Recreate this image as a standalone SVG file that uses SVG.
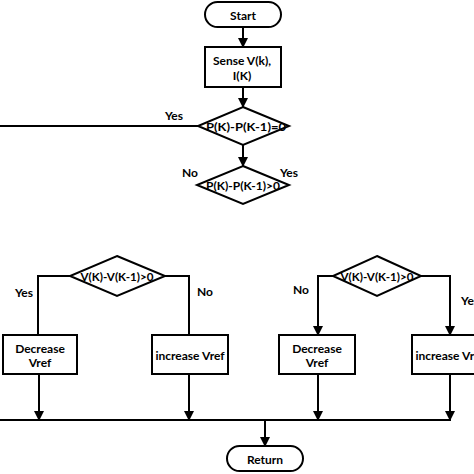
<svg xmlns="http://www.w3.org/2000/svg" width="474" height="474" viewBox="0 0 474 474">
<defs>
<marker id="arr" markerUnits="userSpaceOnUse" markerWidth="10" markerHeight="12" refX="9" refY="5" orient="auto">
<path d="M0,0 L10,5 L0,10 Z" fill="#000"/>
</marker>
<style>
.s{fill:#fff;stroke:#000;stroke-width:2}
.c{fill:none;stroke:#000;stroke-width:2}
.a{marker-end:url(#arr)}
text{font-family:Lato,"Open Sans","Liberation Sans",sans-serif;font-weight:700;font-size:12px;fill:#000;text-anchor:middle;dominant-baseline:central}
</style>
</defs>
<rect width="474" height="474" fill="#fff"/>
<g id="connectors">
<line class="c a" x1="243" y1="27" x2="243" y2="47"/>
<line class="c a" x1="243" y1="87" x2="243" y2="107"/>
<line class="c" x1="198" y1="126" x2="0" y2="126"/>
<line class="c a" x1="243" y1="145" x2="243" y2="166"/>
<polyline class="c" points="70,276 38,276 38,335"/>
<polyline class="c" points="165,276 189,276 189,335"/>
<polyline class="c a" points="333,276 318,276 318,335"/>
<polyline class="c a" points="421,276 450,276 450,335"/>
<line class="c a" x1="39" y1="374" x2="39" y2="420"/>
<line class="c a" x1="189" y1="374" x2="189" y2="420"/>
<line class="c a" x1="318" y1="374" x2="318" y2="420"/>
<line class="c a" x1="450" y1="374" x2="450" y2="420"/>
<line class="c" x1="0" y1="420" x2="451" y2="420"/>
<line class="c a" x1="265" y1="420" x2="265" y2="446"/>
</g>
<g id="labels">
<text x="174" y="115">Yes</text>
<text x="190" y="172">No</text>
<text x="289" y="172">Yes</text>
<text x="24" y="292">Yes</text>
<text x="205" y="291">No</text>
<text x="301" y="289">No</text>
<text x="461" y="300" style="text-anchor:start">Yes</text>
</g>
<g id="start"><rect class="s" x="205" y="2" width="76" height="25" rx="12.5"/><text x="243" y="15">Start</text></g>
<g id="sense"><rect class="s" x="205" y="47" width="76" height="40"/><text x="242" y="60">Sense V(k),</text><text x="242" y="75">I(K)</text></g>
<g id="dec1"><polygon class="s" points="243,107 289,126 243,145 198,126"/><text x="246" y="126" textLength="80" lengthAdjust="spacingAndGlyphs">P(K)-P(K-1)=0</text></g>
<g id="dec2"><polygon class="s" points="243,166 289,185 243,204 197,185"/><text x="243" y="185" textLength="74" lengthAdjust="spacingAndGlyphs">P(K)-P(K-1)&gt;0</text></g>
<g id="dec3"><polygon class="s" points="117,256 165,276 117,296 70,276"/><text x="117" y="276" textLength="73" lengthAdjust="spacingAndGlyphs">V(K)-V(K-1)&gt;0</text></g>
<g id="dec4"><polygon class="s" points="377,256 421,276 377,296 333,276"/><text x="377" y="276" textLength="73" lengthAdjust="spacingAndGlyphs">V(K)-V(K-1)&gt;0</text></g>
<g id="box1"><rect class="s" x="3" y="335" width="74" height="39"/><text x="40" y="348">Decrease</text><text x="40" y="362">Vref</text></g>
<g id="box2"><rect class="s" x="152" y="335" width="76" height="39"/><text x="190" y="355">increase Vref</text></g>
<g id="box3"><rect class="s" x="279" y="335" width="76" height="39"/><text x="317" y="348">Decrease</text><text x="317" y="362">Vref</text></g>
<g id="box4"><rect class="s" x="412" y="335" width="76" height="39"/><text x="450" y="355">increase Vref</text></g>
<g id="return"><rect class="s" x="227" y="446" width="76" height="25" rx="12.5"/><text x="265" y="459">Return</text></g>
</svg>
